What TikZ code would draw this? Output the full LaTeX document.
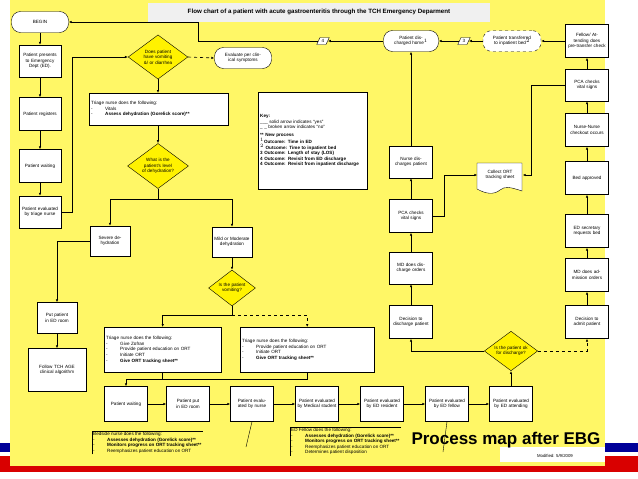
\documentclass[tikz,border=0pt]{standalone}
\usepackage{fontspec}
\setmainfont{Liberation Sans}
\usetikzlibrary{shapes.geometric,arrows.meta,calc}
\newcommand{\bl}{\makebox[14pt][l]{-}}
\begin{document}
\begin{tikzpicture}[x=1pt,y=-1pt,
  every node/.style={font=\fontsize{4.6}{5.6}\selectfont,align=center,inner sep=1pt},
  box/.style={draw,fill=white,minimum width=43pt,minimum height=33pt,text width=40pt},
  rbox/.style={draw,fill=white,rounded corners=9pt,minimum height=21pt},
  dia/.style={draw,fill=yellow,diamond,aspect=1.35,inner sep=0pt,text width=40pt},
  tbox/.style={draw,fill=white,align=left,text width=#1,anchor=north west,inner sep=2pt},
  conn/.style={draw,fill=white,trapezium,trapezium left angle=65,trapezium right angle=115,minimum width=12pt,minimum height=7pt,inner sep=0.5pt},
  ar/.style={-{Latex[length=3pt,width=2.5pt]},semithick},
  nar/.style={ar,dashed}]
\useasboundingbox (0,0) rectangle (638,479);
\fill[white] (0,0) rectangle (638,479);
\fill[yellow!60] (10,0) rectangle (605,466);
\fill[blue!60!black] (0,443) rectangle (10,452);
\fill[blue!60!black] (605,443) rectangle (638,452);
\fill[red!85!black] (0,456) rectangle (10,466);
\fill[red!85!black] (605,456) rectangle (638,466);
\fill[red!85!black] (0,466) rectangle (638,472);
% title
\node[fill=gray!12,minimum width=342pt,minimum height=19pt,font=\fontsize{6.2}{7}\selectfont\bfseries] (title) at (319,12) {Flow chart of a patient with acute gastroenteritis through the TCH Emergency Deparment};
% left column
\node[rbox,minimum width=57pt] (begin) at (40,22) {BEGIN};
\node[box,minimum width=42pt,minimum height=32pt] (pres) at (40,61) {Patient presents to Emergency Dept (ED).};
\node[box,minimum width=42pt] (reg) at (40,114) {Patient registers};
\node[box,minimum width=42pt] (wait1) at (40,166) {Patient waiting};
\node[box,minimum width=42pt,minimum height=32pt] (evtri) at (40,212) {Patient evaluated by triage nurse};
\node[dia] (d1) at (158,57) {Does patient have vomiting \&/ or diarrhea};
\node[rbox,minimum width=57pt,text width=50pt] (evalp) at (243,58) {Evaluate per clinical symptoms};
\node[tbox=135pt,minimum height=32pt] (tri1) at (89,93) {Triage nurse does the following:\\\bl Vitals\\\bl\textbf{Assess dehydration (Gorelick score)**}};
\node[dia] (d2) at (158,166) {What is the patient's level of dehydration?};
\node[box,minimum width=40pt,minimum height=30pt,text width=38pt] (sev) at (110,241) {Severe dehydration};
\node[box,minimum width=40pt,minimum height=30pt,text width=38pt] (mild) at (232,242) {Mild or Moderate dehydration};
\node[tbox=105pt,minimum height=97pt,anchor=north west] (key) at (258,92) {\textbf{Key:}\\\_\_\_ solid arrow indicates ``yes''\\\_ \_ broken arrow indicates ``no''\\[2pt]\textbf{** New process}\\\textbf{$^1$Outcome: Time in ED}\\\textbf{$^2$ Outcome: Time to inpatient bed}\\\textbf{3 Outcome: Length of stay (LOS)}\\\textbf{4 Outcome: Revisit from ED discharge}\\\textbf{4 Outcome: Revisit from inpatient discharge}};
\node[dia,aspect=1.3,text width=34pt] (d3) at (232,288) {Is the patient vomiting?};
\node[box,minimum width=40pt,minimum height=31pt,text width=38pt] (put1) at (57,318) {Put patient in ED room};
\node[box,minimum width=58pt,minimum height=43pt,text width=54pt] (tch) at (57,370) {Follow TCH AGE clinical algorithm};
\node[tbox=113pt,minimum height=45pt] (tri2) at (104,327) {Triage nurse does the following:\\\bl Give Zofran\\\bl Provide patient education on ORT\\\bl Initiate ORT\\\bl\textbf{Give ORT tracking sheet**}};
\node[tbox=130pt,minimum height=45pt] (tri3) at (240,327) {Triage nurse does the following:\\\bl Provide patient education on ORT\\\bl Initiate ORT\\\bl\textbf{Give ORT tracking sheet**}};
% bottom row
\node[box,minimum height=35pt] (w2) at (126,404) {Patient waiting};
\node[box,minimum height=35pt] (put2) at (188,404) {Patient put in ED room};
\node[box,minimum height=35pt] (enur) at (252,404) {Patient evaluated by nurse};
\node[box,minimum height=35pt] (emed) at (317,404) {Patient evaluated by Medical student};
\node[box,minimum height=35pt] (eres) at (382,404) {Patient evaluated by ED resident};
\node[box,minimum height=35pt] (efel) at (447,404) {Patient evaluated by ED fellow};
\node[box,minimum height=35pt] (eatt) at (511,404) {Patient evaluated by ED attending};
\node[align=left,anchor=north west,inner sep=1pt] (bed) at (92,431) {Bedside nurse does the following:\\\bl\textbf{Assesses dehydration (Gorelick score)**}\\\bl\textbf{Monitors progress on ORT tracking sheet**}\\\bl Reemphasizes patient education on ORT};
\draw (bed.south west) |- (bed.north east);
\node[align=left,anchor=north west,inner sep=1pt] (fel) at (290,427) {ED Fellow does the following:\\\bl\textbf{Assesses dehydration (Gorelick score)**}\\\bl\textbf{Monitors progress on ORT tracking sheet**}\\\bl Reemphasizes patient education on ORT\\\bl Determines patient disposition};
\draw (fel.south west) |- (fel.north east);
\coordinate (bn) at (246,447);
\coordinate (fn) at (443,452);
\draw (enur.south) -- (bn);
\draw (efel.south) -- (fn);
\fill[white] (500,447) rectangle (605,462);
\node[font=\fontsize{17}{18}\selectfont\bfseries,inner sep=0pt] (pm) at (506,440) {Process map after EBG};
\node[font=\fontsize{4.3}{5}\selectfont] (mod) at (555,456) {Modified: 5/9/2009};
% right part
\node[dia,aspect=1.35,text width=40pt] (d4) at (511,351) {Is the patient ok for discharge?};
\node[box,minimum height=33pt] (decd) at (411,322) {Decision to discharge patient};
\node[box,minimum height=32pt] (mdd) at (411,268) {MD does discharge orders};
\node[box,minimum height=33pt] (pca1) at (411,216) {PCA checks vital signs};
\node[box,minimum height=32pt] (ndis) at (411,162) {Nurse discharges patient};
\node[minimum width=45pt,minimum height=24pt] (ort) at (500,175) {};
\draw[fill=white] (477,163) -- (522,163) -- (522,191) .. controls (510,187) and (505,186) .. (500,190) .. controls (494,195) and (486,194) .. (477,189) -- cycle;
\node (ortt) at (500,175) {Collect ORT\\tracking sheet};
\node[rbox,minimum width=55pt,text width=52pt] (home) at (411,41) {Patient discharged home$^1$};
\node[conn] (c4) at (323,41) {4};
\node[conn] (c3) at (464,41) {3};
\node[rbox,dashed,minimum width=58pt,text width=54pt] (trans) at (512,41) {Patient transferred to inpatient bed$^2$};
\node[box,minimum height=33pt] (fpre) at (587,41) {Fellow/ Attending does pre-transfer check};
\node[box,minimum height=32pt] (pca2) at (587,85) {PCA checks vital signs};
\node[box,minimum height=33pt] (nn) at (587,130) {Nurse-Nurse checkout occurs};
\node[box,minimum height=33pt] (bapp) at (587,178) {Bed approved};
\node[box,minimum height=33pt] (secr) at (587,231) {ED secretary requests bed};
\node[box,minimum height=33pt] (mda) at (587,275) {MD does admission orders};
\node[box,minimum height=33pt] (deca) at (587,322) {Decision to admit patient};
% connectors
\draw[ar] (begin) -- (pres);
\draw[ar] (pres) -- (reg);
\draw[ar] (reg) -- (wait1);
\draw[ar] (wait1) -- (evtri);
\draw[ar] (evtri.east) -- ++(11,0) |- (d1.west);
\draw[nar] (d1.east) -- (evalp.west);
\draw[ar] (d1.south) -- (tri1.north -| d1.south);
\draw[ar] (tri1.south -| d2.north) -- (d2.north);
\draw[ar] (d2.south) -- ++(0,11) -| (sev.north);
\draw[ar] (d2.south) -- ++(0,11) -| (mild.north);
\draw[ar] (sev.west) -| (put1.north);
\draw[ar] (put1) -- (tch);
\draw[ar] (mild) -- (d3);
\draw[ar] (d3.south) -- ++(0,9) -| (tri2.north);
\draw[nar] (d3.south) ++(0,9) -| (tri3.north);
\draw[ar] (tri2.south) -- ++(0,7) -| (w2.north);
\draw (tri3.south) |- ($(tri2.south)+(0,7)$);
\draw[ar] (w2) -- (put2);
\draw[ar] (put2) -- (enur);
\draw[ar] (enur) -- (emed);
\draw[ar] (emed) -- (eres);
\draw[ar] (eres) -- (efel);
\draw[ar] (efel) -- (eatt);
\draw[ar] (eatt) -- (d4);
\draw[ar] (d4.west) -| (decd.south);
\draw[nar] (d4.east) -| (deca.south);
\draw[ar] (decd) -- (mdd);
\draw[ar] (mdd) -- (pca1);
\draw[ar] (pca1) -- (ndis);
\draw[ar] (ndis) -- (home);
\draw[ar] (pca1.east) -- ++(12,0) |- (ort.west);
\draw[ar] (pca2.west) -- ++(-34,0) |- (ort.east);
\draw[ar] (deca) -- (mda);
\draw[ar] (mda) -- (secr);
\draw[ar] (secr) -- (bapp);
\draw[ar] (bapp) -- (nn);
\draw[ar] (nn) -- (pca2);
\draw[ar] (pca2) -- (fpre);
\draw[ar] (fpre) -- (trans);
\draw[ar] (trans) -- (c3);
\draw[ar] (c3) -- (home);
\draw[ar] (home) -- (c4);
\draw[ar] (c4.west) -- (198,41) |- (begin.east);
\end{tikzpicture}
\end{document}
